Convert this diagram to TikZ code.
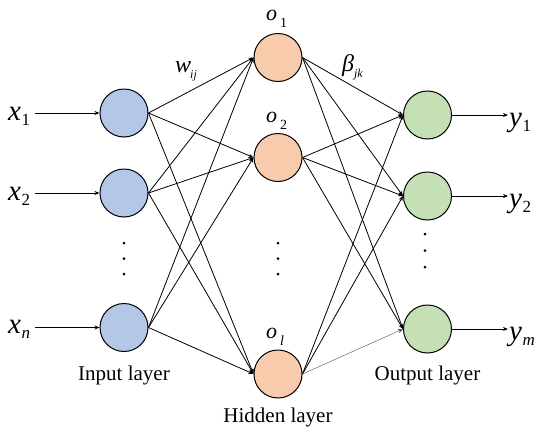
\documentclass[tikz,border=0pt]{standalone}
\usepackage{fontspec}
\setmainfont{Liberation Serif}
\usetikzlibrary{arrows.meta}
\definecolor{inblue}{HTML}{B4C7E7}
\definecolor{hidorange}{HTML}{F8CBAD}
\definecolor{outgreen}{HTML}{C5E0B4}
\newcommand\bigsub[2]{{\fontsize{29}{29}\selectfont\itshape #1}\kern0.5pt\raisebox{-5pt}{\fontsize{17}{17}\selectfont #2}}
\newcommand\midsub[2]{{\fontsize{22}{22}\selectfont\itshape #1}\kern3pt\raisebox{-7pt}{\fontsize{14}{14}\selectfont #2}}
\begin{document}
\begin{tikzpicture}[x=1pt,y=-1pt,
  neuron/.style={circle,draw=black,line width=1pt,minimum size=48pt,inner sep=0pt},
  conn/.style={line width=0.8pt,-{Stealth[length=5pt,width=4pt]}},
  thinconn/.style={line width=0.4pt,draw=black!70,-{Stealth[length=5pt,width=4pt]}},
  lbl/.style={inner sep=0pt,anchor=base west},
  layer/.style={inner sep=0pt,anchor=base,font=\fontsize{21}{21}\selectfont},
  dotc/.style={circle,fill=black,inner sep=0pt,minimum size=3pt}]
\useasboundingbox (0,0) rectangle (550,437);
% input nodes
\node[neuron,fill=inblue] (i1) at (124,113) {};
\node[neuron,fill=inblue] (i2) at (124,193) {};
\node[neuron,fill=inblue] (in) at (124,327.5) {};
% hidden nodes
\node[neuron,fill=hidorange] (h1) at (278,57.5) {};
\node[neuron,fill=hidorange] (h2) at (278,157.5) {};
\node[neuron,fill=hidorange] (hl) at (278,374) {};
% output nodes
\node[neuron,fill=outgreen] (o1) at (427.5,115) {};
\node[neuron,fill=outgreen] (o2) at (427.5,196) {};
\node[neuron,fill=outgreen] (om) at (427.5,329) {};
% input labels and arrows
\node[lbl] (xl1) at (8,120) {\bigsub{x}{1}};
\node[lbl] (xl2) at (8,200) {\bigsub{x}{2}};
\node[lbl] (xln) at (8,333) {\bigsub{x}{\itshape n}};
\coordinate (xa1) at (35,113);
\coordinate (xa2) at (35,193);
\coordinate (xan) at (35,327.5);
\draw[conn] (xa1) -- (i1.west);
\draw[conn] (xa2) -- (i2.west);
\draw[conn] (xan) -- (in.west);
% output labels and arrows
\coordinate (ya1) at (508,115);
\coordinate (ya2) at (508,196);
\coordinate (yam) at (508,329);
\draw[conn] (o1.east) -- (ya1);
\draw[conn] (o2.east) -- (ya2);
\draw[conn] (om.east) -- (yam);
\node[lbl] (yl1) at (509,126) {\bigsub{y}{1}};
\node[lbl] (yl2) at (509,207) {\bigsub{y}{2}};
\node[lbl] (ylm) at (509,340) {\bigsub{y}{\itshape m}};
% hidden labels
\node[lbl] (hl1) at (266,20) {\midsub{o}{1}};
\node[lbl] (hl2) at (266,122) {\midsub{o}{2}};
\node[lbl] (hll) at (266,338) {\midsub{o}{\itshape l}};
% weights
\node[lbl] (w) at (175,72) {{\fontsize{24}{24}\selectfont\itshape w}\kern-1pt\raisebox{-6pt}{\fontsize{12}{12}\selectfont\itshape ij}};
\node[lbl] (b) at (342,71) {{\fontsize{24}{24}\selectfont\itshape β}\raisebox{-6pt}{\fontsize{12}{12}\selectfont\itshape jk}};
% connections input -> hidden
\foreach \a in {i1,i2,in}{
  \foreach \b in {h1,h2,hl}{
    \draw[conn] (\a.east) -- (\b.west);
  }
}
% connections hidden -> output
\foreach \a/\b in {h1/o1,h1/o2,h1/om,h2/o1,h2/o2,h2/om,hl/o1,hl/o2}{
  \draw[conn] (\a.east) -- (\b.west);
}
\draw[thinconn] (hl.east) -- (om.west);
% dots
\node[dotc] (di1) at (124,243) {};
\node[dotc] (di2) at (124,258.5) {};
\node[dotc] (di3) at (124,274) {};
\node[dotc] (dh1) at (278,243) {};
\node[dotc] (dh2) at (278,258.5) {};
\node[dotc] (dh3) at (278,274) {};
\node[dotc] (do1) at (425,234) {};
\node[dotc] (do2) at (425,250.5) {};
\node[dotc] (do3) at (425,267) {};
% layer labels
\node[layer] (tin) at (124,380) {Input layer};
\node[layer] (thid) at (278,422) {Hidden layer};
\node[layer] (tout) at (427.5,380) {Output layer};
\end{tikzpicture}
\end{document}
